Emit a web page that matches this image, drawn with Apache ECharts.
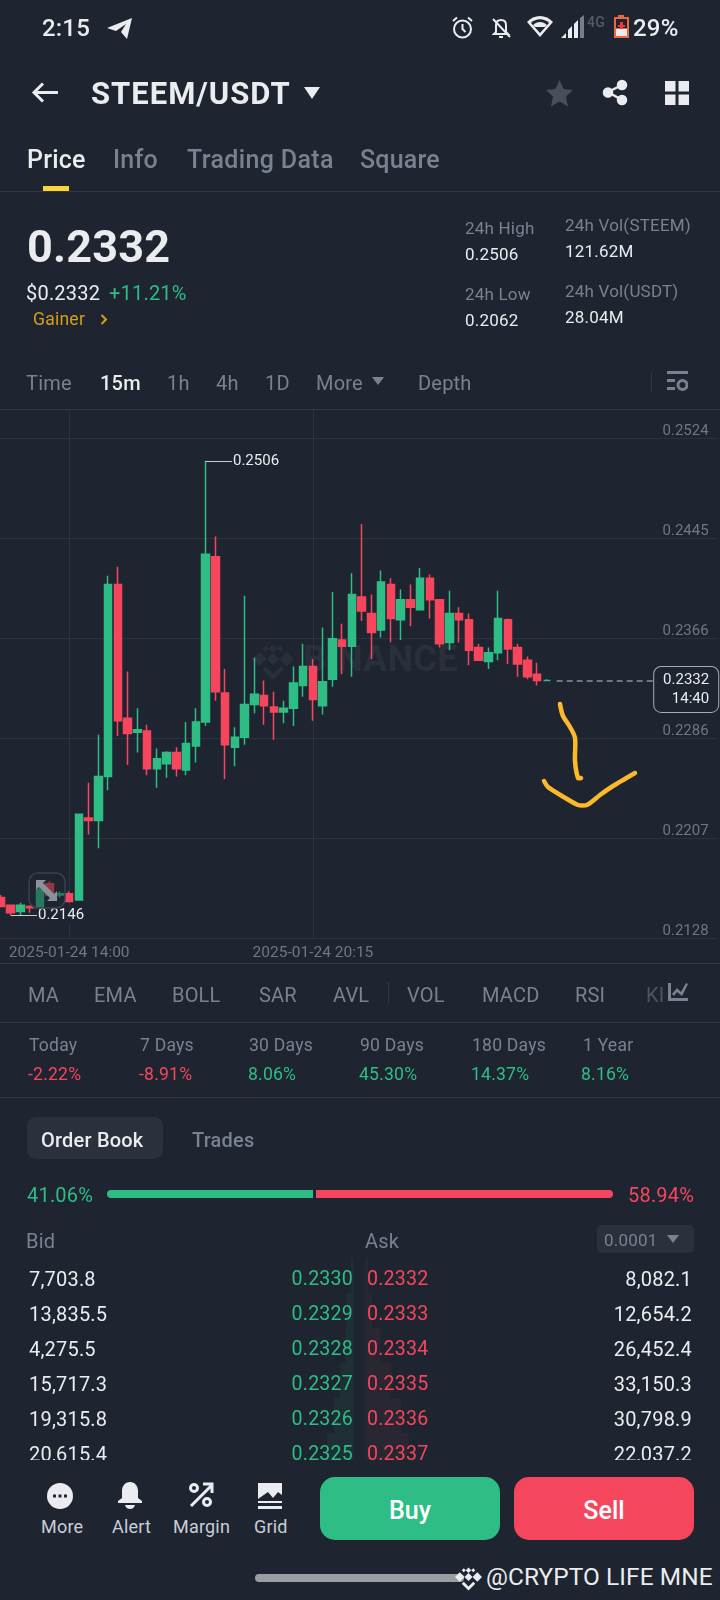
<!DOCTYPE html>
<html>
<head>
<meta charset="utf-8">
<title>STEEM/USDT</title>
<script src="https://cdn.jsdelivr.net/npm/echarts@6/dist/echarts.min.js"></script>
<style>
  html, body { margin: 0; padding: 0; background: #1e2530; }
  #page { position: relative; width: 720px; height: 1600px; overflow: hidden; background: #1e2530; font-family: Roboto, sans-serif; }
  #chart { position: absolute; left: 0; top: 0; width: 720px; height: 1600px; z-index: 1; }
  .t { position: absolute; transform: translateY(-50%); white-space: nowrap; line-height: 1.2; z-index: 2; letter-spacing: .2px; }
  .r { transform: translate(-100%, -50%); }
  .c { transform: translate(-50%, -50%); }
  .w { color: #eaecef; }
  .g { color: #788291; }
  .up { color: #2ebd85; }
  .dn { color: #f6465d; }
  .s17 { font-size: 17px; }
  .s18 { font-size: 17.6px; }
  .s20 { font-size: 20px; }
  .s25 { font-size: 25px; }
  .m { font-weight: 500; }
  .hr { position: absolute; left: 0; width: 720px; height: 1px; background: #323945; z-index: 2; }
  .ic { position: absolute; z-index: 2; }
  .pill { position: absolute; background: #2a313c; z-index: 0; }
  #foot { position: absolute; left: 0; top: 1460px; width: 720px; height: 140px; background: #1e2530; z-index: 3; }
  #foot .t, #foot .ic { z-index: 4; }
  .btn { position: absolute; top: 17px; width: 180px; height: 63px; border-radius: 15px; color: #fff; font-size: 25px; font-weight: 500; text-align: center; line-height: 67px; }
  #mark { position: absolute; left: 252px; top: 638px; z-index: 0; }
  #markText { position: absolute; left: 303px; top: 659px; transform: translateY(-50%); font-size: 36px; font-weight: 700; color: #2a303b; letter-spacing: .3px; z-index: 0; }
  .row { font-size: 19.6px; }
  .qty { font-size: 20px; }
</style>
</head>
<body>
<div id="page">
  <svg width="0" height="0" style="position:absolute">
    <symbol id="logo" viewBox="0 0 40 40">
      <path d="M20 0l7 7-7 7-7-7zM7 13l7 7-7 7-7-7zM33 13l7 7-7 7-7-7zM20 14l6 6-6 6-6-6zM13 27l7 7 7-7 3 3-10 10-10-10zM13 13l7-7 7 7 3-3L20 0 10 10z"/>
    </symbol>
  </svg>

  <!-- status bar -->
  <div class="t w m" style="left:42px;top:28px;font-size:24px">2:15</div>
  <svg class="ic" style="left:107px;top:18px" width="25" height="21" viewBox="0 0 25 21"><path fill="#eaecef" d="M0 10L25 0l-5 21-6-7 5-8-10 7z"/></svg>
  <svg class="ic" style="left:451px;top:16px" width="23" height="23" viewBox="0 0 23 23" fill="none" stroke="#eaecef" stroke-width="2"><circle cx="11.5" cy="13" r="8.5"/><path d="M11.5 8v5l3 3M2 5l4-3.500M21 5l-4-3.500"/></svg>
  <svg class="ic" style="left:490px;top:16px" width="23" height="23" viewBox="0 0 23 23" fill="none" stroke="#eaecef" stroke-width="2"><path d="M6 16V9c0-3 2-5 5-5s5 2 5 5v7l2 2H4zM9 21h4M3 3l17 18"/></svg>
  <svg class="ic" style="left:527px;top:15px" width="26" height="23" viewBox="0 0 26 23"><path fill="#eaecef" d="M13 22L0 7c7-8 19-8 26 0z"/><path fill="#1e2530" d="M13 18L4 8c5-5 13-5 18 0z"/><path fill="#eaecef" d="M6 10c4-4 10-4 14 0l-2 2H8z"/></svg>
  <svg class="ic" style="left:561px;top:15px" width="24" height="23" viewBox="0 0 24 23"><path fill="#eaecef" d="M0 23l5-5v5zM7 23v-8l4-4v12zM13 23V9l4-4v18z"/><path fill="#777e89" d="M19 23V3l4-3v23z"/></svg>
  <div class="t m" style="left:587px;top:22px;font-size:14px;color:#555c67">4G</div>
  <svg class="ic" style="left:614px;top:15px" width="15" height="23" viewBox="0 0 15 23"><path fill="#f0663f" d="M4 0h6v2h5v21H0V2h4z"/><path fill="#1e2530" d="M2 4h11v9H2z"/><path fill="#eaecef" d="M2 14h11v7H2z"/><path fill="#e93b3b" d="M6 7h3v3h2v2H9v2H6v-2H4v-2h2z"/></svg>
  <div class="t w m" style="left:633px;top:28px;font-size:24px">29%</div>

  <!-- header -->
  <svg class="ic" style="left:31px;top:82px" width="27" height="21" viewBox="0 0 27 21" fill="none" stroke="#eaecef" stroke-width="3"><path d="M27 10.500H3M12 1.500l-9 9 9 9"/></svg>
  <div class="t w" style="left:91px;top:94px;font-size:31px;font-weight:700;letter-spacing:1px">STEEM/USDT</div>
  <svg class="ic" style="left:304px;top:87px" width="16" height="12" viewBox="0 0 16 12"><path fill="#eaecef" d="M0 0h16l-8 12z"/></svg>
  <svg class="ic" style="left:546px;top:80px" width="27" height="27" viewBox="0 0 27 27"><path fill="#474f5c" d="M13.500 0l4 9 9.500 1-7 6.500 2 10-8.500-5-8.500 5 2-10-7-6.500 9.500-1z"/></svg>
  <svg class="ic" style="left:602px;top:79px" width="26" height="27" viewBox="0 0 26 27" fill="#eaecef" stroke="#eaecef" stroke-width="2.500"><path d="M20 6L6 13l14 8" fill="none"/><circle cx="20" cy="6" r="4"/><circle cx="6" cy="13.500" r="4"/><circle cx="20" cy="21" r="4"/></svg>
  <svg class="ic" style="left:665px;top:81px" width="24" height="24" viewBox="0 0 24 24"><path fill="#eaecef" d="M0 0h10.500v10.500H0zM13.500 0H24v10.500H13.500zM0 13.500h10.500V24H0zM13.500 13.500H24V24H13.500z"/></svg>

  <!-- tabs -->
  <div class="t w s25 m" style="left:27px;top:160px">Price</div>
  <div class="t g s25 m" style="left:113px;top:160px">Info</div>
  <div class="t g s25 m" style="left:187px;top:160px;letter-spacing:.35px">Trading Data</div>
  <div class="t g s25 m" style="left:360px;top:160px">Square</div>
  <div class="ic" style="left:43px;top:186px;width:26px;height:5px;background:#fcd535"></div>
  <div class="hr" style="top:191px"></div>

  <!-- price block -->
  <div class="t w" style="left:27px;top:247px;font-size:45px;font-weight:700">0.2332</div>
  <div class="t w s20" style="left:26px;top:293px">$0.2332</div>
  <div class="t up s20" style="left:109px;top:293px">+11.21%</div>
  <div class="t s18" style="left:33px;top:320px;color:#d89e16">Gainer</div>
  <svg class="ic" style="left:100px;top:314px" width="8" height="11" viewBox="0 0 8 11" fill="none" stroke="#d89e16" stroke-width="2"><path d="M1.500 1l4.500 4.500L1.500 10"/></svg>
  <div class="t g s17" style="left:465px;top:228px">24h High</div>
  <div class="t w s17" style="left:465px;top:254px">0.2506</div>
  <div class="t g s17" style="left:465px;top:294px">24h Low</div>
  <div class="t w s17" style="left:465px;top:320px">0.2062</div>
  <div class="t g s17" style="left:565px;top:225px">24h Vol(STEEM)</div>
  <div class="t w s17" style="left:565px;top:251px">121.62M</div>
  <div class="t g s17" style="left:565px;top:291px">24h Vol(USDT)</div>
  <div class="t w s17" style="left:565px;top:317px">28.04M</div>

  <!-- timeframes -->
  <div class="t g s20" style="left:26px;top:383px">Time</div>
  <div class="t w s20 m" style="left:100px;top:383px">15m</div>
  <div class="t g s20" style="left:167px;top:383px">1h</div>
  <div class="t g s20" style="left:216px;top:383px">4h</div>
  <div class="t g s20" style="left:265px;top:383px">1D</div>
  <div class="t g s20" style="left:316px;top:383px">More</div>
  <svg class="ic" style="left:372px;top:377px" width="12" height="8" viewBox="0 0 12 8"><path fill="#788291" d="M0 0h12L6 8z"/></svg>
  <div class="t g s20" style="left:418px;top:383px">Depth</div>
  <div class="ic" style="left:651px;top:372px;width:1px;height:20px;background:#323945"></div>
  <svg class="ic" style="left:667px;top:371px" width="21" height="21" viewBox="0 0 21 21" fill="#788291"><path d="M0 0h21v3H0zM0 8h8v3H0zM0 16h8v3H0z"/><circle cx="15.500" cy="14" r="4.500" fill="none" stroke="#788291" stroke-width="3"/></svg>
  <div class="hr" style="top:409px"></div>

  <!-- watermark, sits under the candles -->
  <svg id="mark" width="42" height="42" fill="#2a303b"><use href="#logo"/></svg>
  <div id="markText">BINANCE</div>

  <!-- expand button on the chart -->
  <svg class="ic" style="left:28px;top:872px" width="38" height="37" viewBox="0 0 38 37">
    <rect x="1" y="1" width="36" height="35" rx="9" fill="rgba(30,37,48,.45)" stroke="#3a414d" stroke-width="1.500"/>
    <path fill="#8b929c" d="M8 8h10l-3 3 11 11 3-3v10H19l3-3-11-11-3 3z"/>
  </svg>

  <div class="hr" style="top:963px"></div>

  <!-- indicators -->
  <div class="t g s20" style="left:28px;top:995px">MA</div>
  <div class="t g s20" style="left:94px;top:995px">EMA</div>
  <div class="t g s20" style="left:172px;top:995px">BOLL</div>
  <div class="t g s20" style="left:259px;top:995px">SAR</div>
  <div class="t g s20" style="left:333px;top:995px">AVL</div>
  <div class="ic" style="left:388px;top:982px;width:1px;height:21px;background:#323945"></div>
  <div class="t g s20" style="left:407px;top:995px">VOL</div>
  <div class="t g s20" style="left:482px;top:995px">MACD</div>
  <div class="t g s20" style="left:575px;top:995px">RSI</div>
  <div class="t s20" style="left:646px;top:995px;color:#4d5562">KI</div>
  <svg class="ic" style="left:668px;top:983px" width="20" height="21" viewBox="0 0 20 21" fill="#788291"><path d="M0 0h3v15h17v3H0z"/><path d="M4 11l5-6 4 4 5-9 2 1-6 12-5-4-3 4z"/></svg>
  <div class="hr" style="top:1022px"></div>

  <!-- period changes -->
  <div class="t g s18" style="left:29px;top:1046px">Today</div>
  <div class="t g s18" style="left:140px;top:1046px">7 Days</div>
  <div class="t g s18" style="left:249px;top:1046px">30 Days</div>
  <div class="t g s18" style="left:360px;top:1046px">90 Days</div>
  <div class="t g s18" style="left:472px;top:1046px">180 Days</div>
  <div class="t g s18" style="left:583px;top:1046px">1 Year</div>
  <div class="t dn s18" style="left:28px;top:1075px">-2.22%</div>
  <div class="t dn s18" style="left:139px;top:1075px">-8.91%</div>
  <div class="t up s18" style="left:248px;top:1075px">8.06%</div>
  <div class="t up s18" style="left:359px;top:1075px">45.30%</div>
  <div class="t up s18" style="left:471px;top:1075px">14.37%</div>
  <div class="t up s18" style="left:581px;top:1075px">8.16%</div>
  <div class="hr" style="top:1097px"></div>

  <!-- order book -->
  <div class="pill" style="left:27px;top:1117px;width:136px;height:42px;border-radius:9px"></div>
  <div class="t w s20 m" style="left:41px;top:1140px">Order Book</div>
  <div class="t g s20 m" style="left:192px;top:1140px">Trades</div>
  <div class="t up s20" style="left:27px;top:1195px">41.06%</div>
  <div class="t dn s20" style="left:628px;top:1195px">58.94%</div>
  <div class="t g s20" style="left:26px;top:1241px">Bid</div>
  <div class="t g s20" style="left:365px;top:1241px">Ask</div>
  <div class="pill" style="left:597px;top:1225px;width:97px;height:28px;border-radius:5px"></div>
  <div class="t g s17" style="left:604px;top:1240px">0.0001</div>
  <svg class="ic" style="left:667px;top:1235px" width="12" height="8" viewBox="0 0 12 8"><path fill="#788291" d="M0 0h12L6 8z"/></svg>
  <div id="rows"></div>

  <!-- bottom bar -->
  <div id="foot">
    <svg class="ic" style="left:47px;top:23px" width="26" height="26" viewBox="0 0 26 26"><circle cx="13" cy="13" r="13" fill="#eaecef"/><path fill="#1e2530" d="M6 11.500h3v3H6zM11.500 11.500h3v3h-3zM17 11.500h3v3h-3z"/></svg>
    <svg class="ic" style="left:118px;top:22px" width="24" height="27" viewBox="0 0 24 27"><path fill="#eaecef" d="M12 0c5 0 8 4 8 9v7l4 3v2H0v-2l4-3V9c0-5 3-9 8-9zM7 23h10c-1 3-3 4-5 4s-4-1-5-4z"/></svg>
    <svg class="ic" style="left:188px;top:22px" width="26" height="26" viewBox="0 0 26 26" fill="none" stroke="#eaecef" stroke-width="3"><circle cx="6" cy="6" r="3.500"/><circle cx="19" cy="20" r="3.500"/><path d="M3 24L24 3M15 2h9v9"/></svg>
    <svg class="ic" style="left:258px;top:23px" width="24" height="26" viewBox="0 0 24 26" fill="#eaecef"><path d="M0 0h24v12l-4-3-5 6-5-6-10 7zM0 18h24v2H0zM0 23h24v3H0z"/></svg>
    <div class="t s18 w" style="left:41px;top:67px;color:#c9ced6;font-size:18px">More</div>
    <div class="t s18 w" style="left:112px;top:67px;color:#c9ced6;font-size:18px">Alert</div>
    <div class="t s18 w" style="left:173px;top:67px;color:#c9ced6;font-size:18px">Margin</div>
    <div class="t s18 w" style="left:254px;top:67px;color:#c9ced6;font-size:18px">Grid</div>
    <div class="btn" style="left:320px;background:#2ebd85">Buy</div>
    <div class="btn" style="left:514px;background:#f6465d">Sell</div>
    <div class="ic" style="left:255px;top:114px;width:209px;height:8px;border-radius:4px;background:#9a9da2"></div>
    <svg class="ic" style="left:455px;top:103px" width="27" height="28" fill="#eaecef"><use href="#logo"/></svg>
    <div class="t w" style="left:486px;top:117px;font-size:24.4px;letter-spacing:.1px">@CRYPTO LIFE MNE</div>
  </div>
  <div id="chart"></div>
</div>

<script>
// candles are [open, close, low, high], 15m, first one is 12:15
var candles = [
  [0.2160, 0.2153, 0.2153, 0.2162], [0.2154, 0.2148, 0.2146, 0.2154], [0.2149, 0.2154, 0.2146, 0.2156],
  [0.2153, 0.2152, 0.2148, 0.2154], [0.2152, 0.2166, 0.2150, 0.2168], [0.2171, 0.2162, 0.2161, 0.2173],
  [0.2162, 0.2163, 0.2160, 0.2165], [0.2163, 0.2157, 0.2157, 0.2165], [0.2158, 0.2226, 0.2158, 0.2226],
  [0.2223, 0.2221, 0.2210, 0.2251], [0.2221, 0.2256, 0.2199, 0.2289], [0.2256, 0.2408, 0.2245, 0.2415],
  [0.2408, 0.2300, 0.2288, 0.2422], [0.2302, 0.2290, 0.2265, 0.2339], [0.2291, 0.2293, 0.2275, 0.2310],
  [0.2292, 0.2262, 0.2257, 0.2297], [0.2262, 0.2270, 0.2247, 0.2278], [0.2266, 0.2275, 0.2255, 0.2276],
  [0.2275, 0.2262, 0.2256, 0.2279], [0.2261, 0.2282, 0.2257, 0.2299], [0.2280, 0.2299, 0.2267, 0.2310],
  [0.2299, 0.2432, 0.2296, 0.2506], [0.2430, 0.2323, 0.2316, 0.2446], [0.2322, 0.2281, 0.2254, 0.2341],
  [0.2279, 0.2287, 0.2264, 0.2295], [0.2287, 0.2313, 0.2281, 0.2399], [0.2313, 0.2321, 0.2306, 0.2350],
  [0.2320, 0.2312, 0.2297, 0.2332], [0.2311, 0.2307, 0.2285, 0.2323], [0.2307, 0.2310, 0.2298, 0.2316],
  [0.2310, 0.2330, 0.2296, 0.2343], [0.2328, 0.2343, 0.2319, 0.2361], [0.2343, 0.2317, 0.2300, 0.2349],
  [0.2312, 0.2331, 0.2305, 0.2374], [0.2333, 0.2365, 0.2327, 0.2402], [0.2364, 0.2359, 0.2337, 0.2377],
  [0.2359, 0.2400, 0.2335, 0.2417], [0.2398, 0.2387, 0.2379, 0.2456], [0.2385, 0.2370, 0.2349, 0.2400],
  [0.2372, 0.2410, 0.2366, 0.2419], [0.2408, 0.2381, 0.2362, 0.2413], [0.2380, 0.2396, 0.2364, 0.2404],
  [0.2396, 0.2390, 0.2375, 0.2408], [0.2388, 0.2413, 0.2388, 0.2421], [0.2413, 0.2396, 0.2381, 0.2416],
  [0.2396, 0.2361, 0.2358, 0.2396], [0.2362, 0.2385, 0.2356, 0.2403], [0.2385, 0.2380, 0.2362, 0.2390],
  [0.2380, 0.2356, 0.2344, 0.2385], [0.2358, 0.2348, 0.2348, 0.2361], [0.2347, 0.2354, 0.2341, 0.2358],
  [0.2354, 0.2381, 0.2348, 0.2403], [0.2380, 0.2357, 0.2345, 0.2381], [0.2358, 0.2345, 0.2335, 0.2361],
  [0.2348, 0.2335, 0.2333, 0.2351], [0.2337, 0.2332, 0.2328, 0.2346], [0.2332, 0.2332, 0.2332, 0.2333]
];
var priceTicks = [0.2128, 0.22072, 0.22864, 0.23656, 0.24448, 0.2524];
var timeTicks = ['2025-01-24 14:00', '2025-01-24 20:15'];
var highPoint = [21, 0.2506];
var lowPoint = [1, 0.2146];
var lastPrice = 0.2332;
var countdown = '14:40';

var ratioBid = 41.06;
var ratioAsk = 58.94;

var bidQty = ['7,703.8', '13,835.5', '4,275.5', '15,717.3', '19,315.8', '20,615.4'];
var bidPrice = ['0.2330', '0.2329', '0.2328', '0.2327', '0.2326', '0.2325'];
var askPrice = ['0.2332', '0.2333', '0.2334', '0.2335', '0.2336', '0.2337'];
var askQty = ['8,082.1', '12,654.2', '26,452.4', '33,150.3', '30,798.9', '22,037.2'];
var bidDepth = [7703.8, 21539.3, 25814.8, 41532.1, 60847.9, 81463.3];
var askDepth = [8082.1, 20736.3, 47188.7, 80339.0, 111137.9, 133175.1];

var UP = '#2ebd85';
var DOWN = '#f6465d';
var BG = '#1e2530';
var GRID = '#2c333e';
var MUTED = '#6e7785';

// order book text
var rowsHtml = '';
for (var r = 0; r < bidQty.length; r++) {
  var y = 1279 + r * 35;
  rowsHtml += '<div class="t w qty" style="left:29px;top:' + y + 'px">' + bidQty[r] + '</div>' +
    '<div class="t up row r" style="left:353px;top:' + y + 'px">' + bidPrice[r] + '</div>' +
    '<div class="t dn row" style="left:367px;top:' + y + 'px">' + askPrice[r] + '</div>' +
    '<div class="t w qty r" style="left:692px;top:' + y + 'px">' + askQty[r] + '</div>';
}
document.getElementById('rows').innerHTML = rowsHtml;

// 15m time axis, runs on past the last candle to the right edge
var categories = [];
for (var i = 0; i < 74; i++) {
  var d = new Date(Date.UTC(2025, 0, 24, 12, 15 + i * 15));
  categories.push(d.toISOString().slice(0, 16).replace('T', ' '));
}
var rowNames = askPrice.slice();

var myChart = echarts.init(document.getElementById('chart'));

var option = {
  animation: false,
  backgroundColor: 'transparent',
  textStyle: { fontFamily: 'Roboto' },
  grid: [
    { left: -3.9, top: 409, width: 721.5, height: 529, outerBoundsMode: 'none' },
    { left: 105.5, top: 1184, width: 509, height: 20 },
    { left: 293.5, top: 1258, width: 60, height: 210 },
    { left: 365.5, top: 1258, width: 60, height: 210 }
  ],
  xAxis: [
    {
      type: 'category',
      gridIndex: 0,
      data: categories,
      axisLine: { show: false },
      axisTick: { show: false },
      axisLabel: {
        color: MUTED,
        fontSize: 15.5,
        margin: 7,
        interval: function (index, value) { return timeTicks.indexOf(value) >= 0; },
        formatter: function (value) { return value; }
      },
      splitLine: {
        show: true,
        alignWithLabel: true,
        interval: function (index, value) { return timeTicks.indexOf(value) >= 0; },
        lineStyle: { color: GRID, width: 1 }
      }
    },
    { type: 'value', gridIndex: 1, min: 0, max: 100, show: false },
    { type: 'value', gridIndex: 2, min: 0, max: 185820, inverse: true, show: false },
    { type: 'value', gridIndex: 3, min: 0, max: 185820, show: false }
  ],
  yAxis: [
    {
      type: 'value',
      gridIndex: 0,
      position: 'right',
      min: 0.2128,
      max: 0.2547,
      axisLine: { show: false },
      axisTick: { show: false, customValues: priceTicks },
      axisLabel: {
        customValues: priceTicks,
        inside: true,
        margin: 9,
        color: MUTED,
        fontSize: 15,
        verticalAlign: 'bottom',
        lineHeight: 14,
        formatter: function (v) { return v.toFixed(4); }
      },
      splitLine: { show: true, lineStyle: { color: GRID, width: 1 } }
    },
    { type: 'category', gridIndex: 1, data: ['ratio'], show: false },
    { type: 'category', gridIndex: 2, data: rowNames, inverse: true, show: false },
    { type: 'category', gridIndex: 3, data: rowNames, inverse: true, show: false }
  ],
  series: [
    {
      type: 'candlestick',
      xAxisIndex: 0,
      yAxisIndex: 0,
      data: candles,
      barWidth: 8,
      z: 3,
      itemStyle: {
        color: UP,
        color0: DOWN,
        borderColor: UP,
        borderColor0: DOWN,
        borderWidth: 1.5
      },
      markLine: {
        silent: true,
        symbol: 'none',
        animation: false,
        data: [
          [
            { coord: highPoint, lineStyle: { color: '#c9ced6', width: 1, type: 'solid' }, label: { show: true, position: 'end', distance: -3, color: '#eaecef', fontSize: 15, backgroundColor: BG, padding: [0, 0, 0, 1], formatter: highPoint[1].toFixed(4) } },
            { coord: [highPoint[0] + 3, highPoint[1]] }
          ],
          [
            { coord: lowPoint, lineStyle: { color: '#c9ced6', width: 1, type: 'solid' }, label: { show: true, position: 'end', distance: -3, color: '#eaecef', fontSize: 15, backgroundColor: BG, padding: [0, 0, 0, 1], formatter: lowPoint[1].toFixed(4) } },
            { coord: [lowPoint[0] + 3, lowPoint[1]] }
          ],
          [
            { coord: [57, lastPrice], lineStyle: { color: '#8a919b', width: 1.5, type: [6, 4] }, label: { show: false } },
            { coord: [67, lastPrice] }
          ]
        ]
      },
      markPoint: {
        silent: true,
        symbol: 'circle',
        symbolSize: 0,
        animation: false,
        data: [{
          coord: [67, lastPrice],
          label: {
            show: true,
            position: 'right',
            distance: 0,
            offset: [0, 9],
            width: 55,
            backgroundColor: BG,
            borderColor: '#a7acb3',
            borderWidth: 1,
            borderRadius: 7,
            padding: [4, 9, 3, 0],
            formatter: '{a|' + lastPrice.toFixed(4) + '}\n{a|' + countdown + '}',
            rich: { a: { color: '#eaecef', fontSize: 15, lineHeight: 19, align: 'right', width: 55 } }
          }
        }]
      }
    },
    {
      type: 'bar', xAxisIndex: 1, yAxisIndex: 1, stack: 'ratio', data: [ratioBid], barWidth: 11,
      itemStyle: { color: UP, borderColor: BG, borderWidth: 1.5, borderRadius: [6, 0, 0, 6] }
    },
    {
      type: 'bar', xAxisIndex: 1, yAxisIndex: 1, stack: 'ratio', data: [ratioAsk], barWidth: 11,
      itemStyle: { color: DOWN, borderColor: BG, borderWidth: 1.5, borderRadius: [0, 6, 6, 0] }
    },
    {
      type: 'bar', xAxisIndex: 2, yAxisIndex: 2, data: bidDepth, barCategoryGap: 0,
      itemStyle: { color: 'rgba(46,189,133,0.07)' }
    },
    {
      type: 'bar', xAxisIndex: 3, yAxisIndex: 3, data: askDepth, barCategoryGap: 0,
      itemStyle: { color: 'rgba(246,70,93,0.05)' }
    }
  ],
  graphic: [
    // hand drawn arrow on the screenshot
    {
      type: 'polyline', z: 10, silent: true,
      shape: { points: [[560, 704], [563, 716], [570, 727], [575, 738], [575, 761], [578, 778], [581, 778]], smooth: 0.3 },
      style: { stroke: '#fdb92c', lineWidth: 4.5, lineCap: 'round', lineJoin: 'round', fill: null }
    },
    {
      type: 'polyline', z: 10, silent: true,
      shape: { points: [[544, 781], [548, 787], [562, 796], [578, 805], [587, 805], [600, 795], [613, 786], [635, 773]], smooth: 0.2 },
      style: { stroke: '#fdb92c', lineWidth: 4.5, lineCap: 'round', lineJoin: 'round', fill: null }
    }
  ]
};

myChart.setOption(option);
</script>
</body>
</html>
